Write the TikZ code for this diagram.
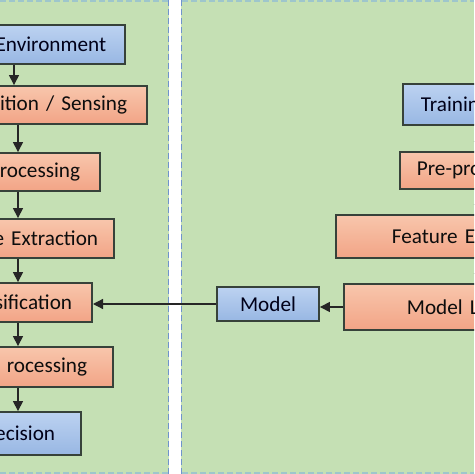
\documentclass[tikz,border=0pt]{standalone}
\usepackage{fontspec}
\setmainfont{Carlito}
\usetikzlibrary{arrows.meta}

\definecolor{panelgreen}{HTML}{C5E0B4}
\definecolor{sepblue}{HTML}{6F93CC}
\definecolor{edgeteal}{HTML}{9EC6CC}
\definecolor{boxline}{HTML}{37423A}
\definecolor{bluetop}{HTML}{BCD2F1}
\definecolor{bluebot}{HTML}{98B7E3}
\definecolor{salmtop}{HTML}{F8C6AC}
\definecolor{salmbot}{HTML}{F2A486}

\tikzset{
  blockblue/.style={draw=boxline, line width=0.9pt, top color=bluetop, bottom color=bluebot,
    text=black!90!blue, font=\fontsize{10.6}{12}\selectfont, inner ysep=0pt},
  blocksalmon/.style={draw=boxline, line width=0.9pt, top color=salmtop, bottom color=salmbot,
    text=black!95, font=\fontsize{10.6}{12}\selectfont, inner ysep=0pt},
  flow/.style={-{Triangle[length=5pt,width=5pt]}, line width=0.6pt, black!85}
}

\begin{document}
\begin{tikzpicture}[x=0.5pt, y=-0.5pt]
    \useasboundingbox (0,0) rectangle (474,474);
    \clip (0,0) rectangle (474,474);

    % panels
    \fill[panelgreen] (0,0) rectangle (474,474);
    \fill[white] (169,0) rectangle (181,474);
    \draw[sepblue, line width=0.8pt, dash pattern=on 3pt off 1.5pt] (168.5,0) -- (168.5,474);
    \draw[sepblue, line width=0.8pt, dash pattern=on 3pt off 1.5pt] (181.5,0) -- (181.5,474);
    \draw[edgeteal, line width=1pt, dash pattern=on 3pt off 1.5pt] (0,1) -- (168,1);
    \draw[edgeteal, line width=1pt, dash pattern=on 3pt off 1.5pt] (182,1) -- (474,1);
    \draw[edgeteal, line width=1pt, dash pattern=on 3pt off 1.5pt] (0,473) -- (168,473);
    \draw[edgeteal, line width=1pt, dash pattern=on 3pt off 1.5pt] (182,473) -- (474,473);

    % recognition chain (left)
    \node[blockblue, anchor=east, align=right, text width=74pt, inner xsep=9.5pt, minimum height=19.5pt] (env) at (126,44.5) {Environment};
    \node[blocksalmon, anchor=east, align=right, text width=84pt, inner xsep=10pt, minimum height=19pt] (acq) at (148,105) {sition / Sensing};
    \node[blocksalmon, anchor=east, align=right, text width=60.5pt, inner xsep=10pt, minimum height=19pt] (prep) at (101,172) {rocessing};
    \node[blocksalmon, anchor=east, align=right, text width=71.5pt, inner xsep=8pt, minimum height=19.5pt] (feat) at (115,238.5) {e Extraction};
    \node[blocksalmon, anchor=east, align=right, text width=56.5pt, inner xsep=10pt, minimum height=19.5pt] (cls) at (93,302.5) {sification};
    \node[blocksalmon, anchor=east, align=right, text width=61pt, inner xsep=13pt, minimum height=20pt] (post) at (114,367) {rocessing};
    \node[blockblue, anchor=east, align=right, text width=45pt, inner xsep=13pt, minimum height=21.5pt] (dec) at (82,433.5) {ecision};

    % training chain (right)
    \node[blockblue, anchor=west, align=left, text width=40pt, inner xsep=9pt, minimum height=20.5pt] (train) at (402,104.5) {Trainin};
    \node[blocksalmon, anchor=west, align=left, text width=40pt, inner xsep=8.5pt, minimum height=18.5pt] (prept) at (399,170.5) {Pre-pro};
    \node[blocksalmon, anchor=west, align=left, text width=50pt, inner xsep=28pt, minimum height=21.5pt] (featt) at (335,236.5) {Feature E};
    \node[blocksalmon, anchor=west, align=left, text width=45pt, inner xsep=31.5pt, minimum height=23pt] (learn) at (343,307) {Model L};
    \node[blockblue, minimum width=51pt, minimum height=17pt, inner xsep=0pt] (model) at (268,304) {Model};

    \coordinate (laxis) at (18,0);
    \coordinate (raxis) at (479,0);

    \draw[flow] (env.south -| 14,0) -- (acq.north -| 14,0);
    \draw[flow] (acq.south -| laxis) -- (prep.north -| laxis);
    \draw[flow] (prep.south -| laxis) -- (feat.north -| laxis);
    \draw[flow] (feat.south -| laxis) -- (cls.north -| laxis);
    \draw[flow] (cls.south -| laxis) -- (post.north -| laxis);
    \draw[flow] (post.south -| laxis) -- (dec.north -| laxis);

    \draw[flow] (train.south -| raxis) -- (prept.north -| raxis);
    \draw[flow] (prept.south -| raxis) -- (featt.north -| raxis);
    \draw[flow] (featt.south -| raxis) -- (learn.north -| raxis);

    \draw[flow] (learn.west) -- (learn.west -| model.east);
    \draw[flow] (model.west) -- (model.west -| cls.east);
\end{tikzpicture}
\end{document}
